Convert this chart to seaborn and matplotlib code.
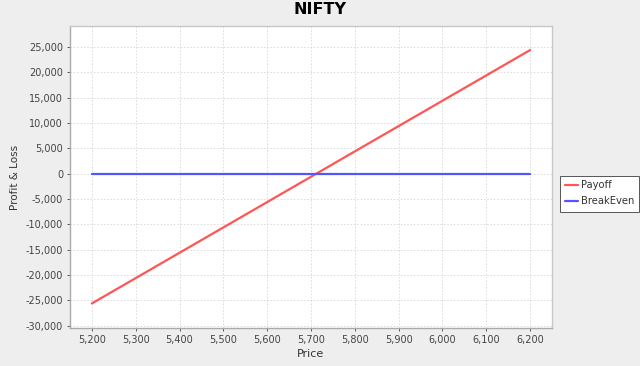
import matplotlib
matplotlib.use("Agg")
import matplotlib.pyplot as plt
import seaborn as sns
import pandas as pd
from matplotlib.ticker import FuncFormatter, MultipleLocator

price = [5200, 5300, 5400, 5500, 5600, 5700, 5800, 5900, 6000, 6100, 6200]
payoff = [-25600, -20600, -15600, -10600, -5600, -600, 4400, 9400, 14400, 19400, 24400]
breakeven = [0, 0, 0, 0, 0, 0, 0, 0, 0, 0, 0]

df = pd.DataFrame({"Price": price * 2,
                   "Value": payoff + breakeven,
                   "Series": ["Payoff"] * len(price) + ["BreakEven"] * len(price)})

sns.set_theme(style="white")
plt.rcParams['font.family'] = ['DejaVu Sans']

fig = plt.figure(figsize=(6.4, 3.66), dpi=100, facecolor="#EEEEEE")
ax = fig.add_axes([70/640, 1 - 328/366, (552-70)/640, (328-26)/366])
ax.set_facecolor("white")

sns.lineplot(data=df, x="Price", y="Value", hue="Series",
             palette={"Payoff": "#FF5555", "BreakEven": "#5555FF"},
             linewidth=1.6, ax=ax)

ax.set_xlim(5150, 6250)
ax.set_ylim(-30450, 29150)
ax.xaxis.set_major_locator(MultipleLocator(100))
ax.yaxis.set_major_locator(MultipleLocator(5000))
fmt = FuncFormatter(lambda v, p: f"{int(v):,}")
ax.xaxis.set_major_formatter(fmt)
ax.yaxis.set_major_formatter(fmt)
ax.tick_params(axis="both", labelsize=7, colors="#444444", length=2, width=0.6, direction="out",
               bottom=True, left=True, pad=3)
ax.grid(True, color="#D8D8D8", linestyle=(0, (2, 2)), linewidth=0.6)
for s in ax.spines.values():
    s.set_color("#C8C8C8")
    s.set_linewidth(1.0)
ax.spines["left"].set_color("#AAAAAA")
ax.spines["bottom"].set_color("#AAAAAA")

ax.set_xlabel("Price", fontsize=8, color="#333333", labelpad=3)
ax.set_ylabel("Profit & Loss", fontsize=7.5, color="#333333", labelpad=4)

fig.suptitle("NIFTY", x=0.5, y=0.995, fontsize=11.5, fontweight="bold", color="black")

leg = ax.legend(loc="center left", bbox_to_anchor=(560/640, 1 - 193.5/366),
                bbox_transform=fig.transFigure, fontsize=7.2,
                frameon=True, fancybox=False, framealpha=1, borderpad=0.5,
                borderaxespad=0, handlelength=1.3, handletextpad=0.25, labelspacing=0.6)
leg.get_frame().set_edgecolor("#555555")
leg.get_frame().set_linewidth(0.7)
for t in leg.get_texts():
    t.set_color("#333333")

fig.savefig("out.png", dpi=100, facecolor=fig.get_facecolor())
